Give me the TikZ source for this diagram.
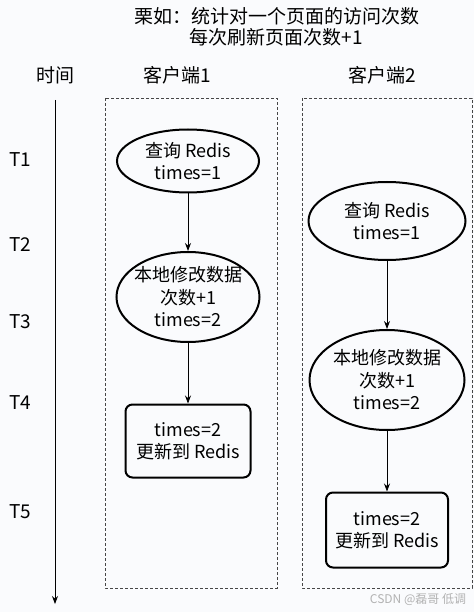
\documentclass[tikz,border=0pt]{standalone}
\usepackage{fontspec}
\setmainfont{Noto Sans CJK SC}
\usetikzlibrary{positioning, arrows.meta, shapes.geometric}
\definecolor{fond}{RGB}{250,251,253}
\definecolor{pointille}{RGB}{70,70,70}

\begin{document}
\begin{tikzpicture}[x=1pt, y=-1pt, >={Stealth[length=8pt, width=6pt]}, font=\fontsize{19}{23}\selectfont,
    etape/.style={ellipse, draw, line width=2pt, inner sep=-8pt, align=center, font=\fontsize{18}{22.5}\selectfont},
    boite/.style={rectangle, rounded corners=7pt, draw, line width=2pt, inner sep=0pt, align=center, font=\fontsize{18}{22.5}\selectfont},
    cadre/.style={draw=pointille, dash pattern=on 3pt off 2pt, line width=0.8pt},
    fleche/.style={->, line width=0.8pt}]

% Fond
\fill[fond] (0,0) rectangle (474,612);
\useasboundingbox (0,0) rectangle (474,612);

% Titre
\node (titre1) at (277,16) {栗如：统计对一个页面的访问次数};
\node (titre2) at (276,37) {每次刷新页面次数+1};

% En-tetes
\node (temps) at (55,75) {时间};
\node (client1) at (177,75) {客户端1};
\node (client2) at (382,75) {客户端2};

% Axe du temps
\coordinate (haut) at (55,100);
\coordinate (bas) at (55,604);
\draw[fleche] (haut) -- (bas);
\foreach \t/\y in {1/160, 2/245, 3/322, 4/403, 5/512} {
    \node (t\t) at (20,\y) {T\t};
}

% Cadres
\draw[cadre] (105,98) rectangle (277,588);
\draw[cadre] (302,98) rectangle (472,588);

% Client 1
\node[etape, minimum width=142, minimum height=63] (lire1) at (188,161) {查询 Redis\\times=1};
\node[etape, minimum width=143, minimum height=90] (modif1) at (188,297) {本地修改数据\\次数+1\\times=2};
\node[boite, minimum width=125, minimum height=73] (maj1) at (188,441) {times=2\\更新到 Redis};
\draw[fleche] (lire1) -- (modif1);
\draw[fleche] (modif1) -- (maj1);

% Client 2
\node[etape, minimum width=157, minimum height=78] (lire2) at (387,221) {查询 Redis\\times=1};
\node[etape, minimum width=155, minimum height=100] (modif2) at (387,380) {本地修改数据\\次数+1\\times=2};
\node[boite, minimum width=122, minimum height=75] (maj2) at (387,530) {times=2\\更新到 Redis};
\draw[fleche] (lire2) -- (modif2);
\draw[fleche] (modif2) -- (maj2);

% Filigrane
\node[text=black!30, font=\fontsize{12}{14}\selectfont] (filigrane) at (418,600) {CSDN @磊哥 低调};

\end{tikzpicture}
\end{document}
